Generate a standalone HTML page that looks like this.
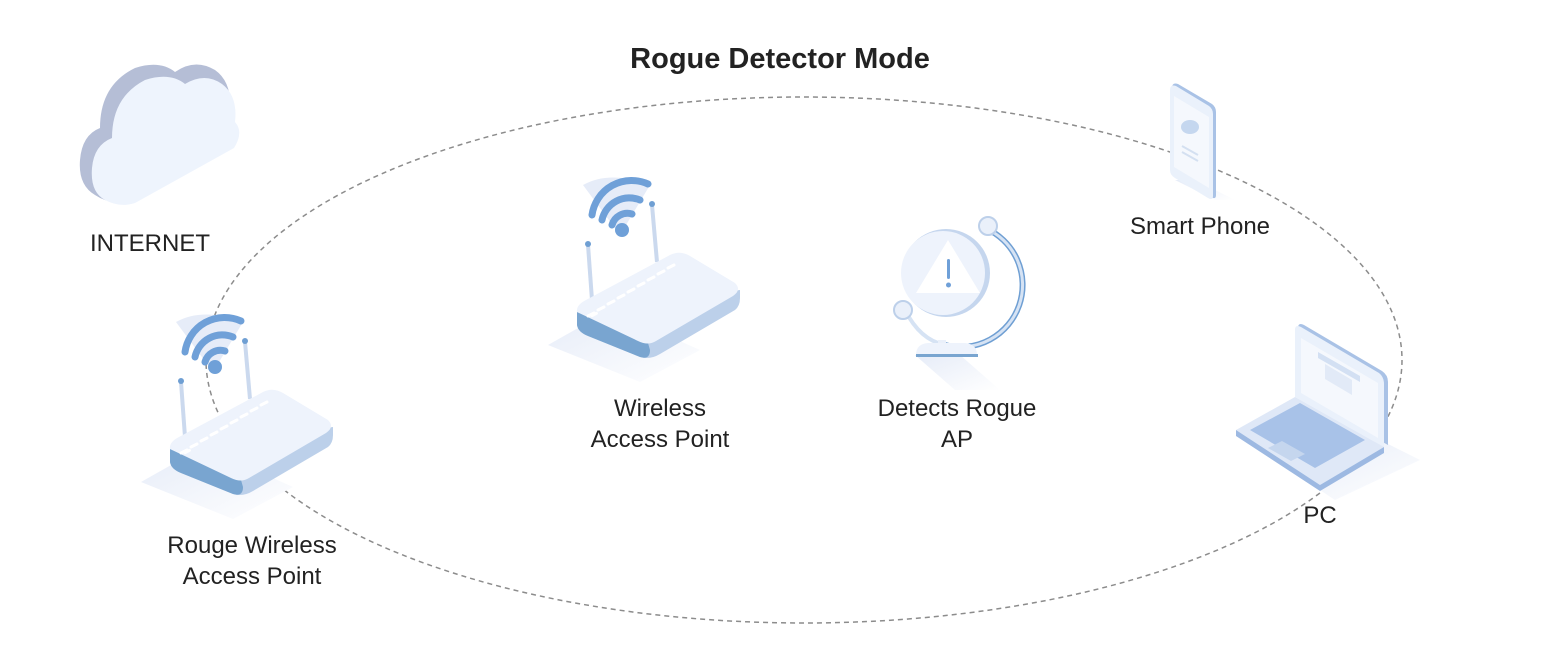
<!DOCTYPE html>
<html><head><meta charset="utf-8"><style>
body{margin:0;background:#fff;}
svg{display:block;font-family:"Liberation Sans",sans-serif;}
</style></head><body>
<svg width="1560" height="665" viewBox="0 0 1560 665" xmlns="http://www.w3.org/2000/svg">
<defs>
<linearGradient id="sh" x1="0" y1="0" x2="1" y2="1"><stop offset="0" stop-color="#e6ecf8"/><stop offset="1" stop-color="#fff"/></linearGradient>
<linearGradient id="wf" x1="0" y1="1" x2="1" y2="0"><stop offset="0" stop-color="#eef2fb"/><stop offset="1" stop-color="#6fa0d8"/></linearGradient>
<g id="router">
<polygon points="548,345 640,382 700,350 610,310" fill="url(#sh)"/>
<line x1="588" y1="245" x2="592" y2="300" stroke="#cbd9ee" stroke-width="4"/>
<circle cx="588" cy="244" r="3" fill="#6f9fd3"/>
<line x1="652" y1="205" x2="657" y2="262" stroke="#cbd9ee" stroke-width="4"/>
<circle cx="652" cy="204" r="3" fill="#6f9fd3"/>
<path d="M583,185 Q610,170 650,185 L620,235 Z" fill="#e6ecf8"/>
<path d="M592,215 A40,40 0 0 1 648,184" fill="none" stroke="#6fa0d8" stroke-width="7" stroke-linecap="round"/>
<path d="M602,220 A28,28 0 0 1 640,200" fill="none" stroke="#6fa0d8" stroke-width="7" stroke-linecap="round"/>
<path d="M612,225 A16,16 0 0 1 632,214" fill="none" stroke="#6fa0d8" stroke-width="7" stroke-linecap="round"/>
<circle cx="622" cy="230" r="7" fill="#6fa0d8"/>
<path d="M577,312 L577,325 Q578,332 588,336 L640,357 Q650,360 660,354 L735,310 Q740,306 740,298 L740,290 Z" fill="#bcd0ea"/>
<path d="M577,312 L577,325 Q578,332 588,336 L640,357 Q650,360 650,350 L648,343 Z" fill="#79a5d0"/>
<path d="M577,312 Q576,305 586,300 L670,255 Q680,250 690,256 L735,283 Q742,290 733,296 L656,341 Q648,346 638,341 Z" fill="#eef3fc"/>
<g fill="#fff"><rect x="590" y="313" width="8" height="3" rx="1.5" transform="rotate(-28 594 314)"/></g>
<g stroke="#fff" stroke-width="3" stroke-linecap="round">
<line x1="588" y1="316" x2="594" y2="313"/><line x1="598" y1="310" x2="604" y2="307"/><line x1="608" y1="304" x2="614" y2="301"/><line x1="618" y1="298" x2="624" y2="295"/><line x1="628" y1="292" x2="634" y2="289"/><line x1="638" y1="286" x2="644" y2="283"/><line x1="648" y1="280" x2="654" y2="277"/><line x1="658" y1="274" x2="664" y2="271"/><line x1="668" y1="268" x2="674" y2="265"/></g>
</g>
</defs>
<ellipse cx="804" cy="360" rx="598" ry="263" fill="none" stroke="#8c8c8c" stroke-width="1.5" stroke-dasharray="5,4"/>
<text x="780" y="68" text-anchor="middle" font-size="29" font-weight="bold" fill="#222">Rogue Detector Mode</text>
<!-- cloud -->
<path d="M95,195 Q78,185 80,160 Q82,135 100,128 Q100,85 135,68 Q160,60 175,72 Q195,58 215,70 Q232,82 230,110 Q240,120 230,140 L125,200 Q110,205 95,195 Z" fill="#b5bed6"/>
<path d="M105,200 Q90,192 92,168 Q94,145 112,138 Q112,97 145,80 Q170,72 185,84 Q205,72 222,84 Q238,96 235,122 Q244,132 234,148 L135,203 Q120,208 105,200 Z" fill="#eef4fd"/>
<text x="150" y="251" text-anchor="middle" font-size="24" fill="#222">INTERNET</text>
<!-- routers -->
<use href="#router"/>
<use href="#router" transform="translate(-407,137)"/>
<text x="660" y="416" text-anchor="middle" font-size="24" fill="#222">Wireless</text>
<text x="660" y="447" text-anchor="middle" font-size="24" fill="#222">Access Point</text>
<text x="252" y="553" text-anchor="middle" font-size="24" fill="#222">Rouge Wireless</text>
<text x="252" y="584" text-anchor="middle" font-size="24" fill="#222">Access Point</text>
<!-- detector -->
<polygon points="915,355 955,390 1000,390 960,355" fill="url(#sh)"/>
<path d="M985,228 A62,62 0 0 1 945,345" fill="none" stroke="#6f9fd3" stroke-width="6"/>
<path d="M985,228 A62,62 0 0 1 945,345" fill="none" stroke="#d6e3f4" stroke-width="3"/>
<path d="M905,310 Q920,340 945,345" fill="none" stroke="#d6e3f4" stroke-width="4"/>
<circle cx="988" cy="226" r="9" fill="#eaf0fa" stroke="#bdd0ea" stroke-width="2"/>
<circle cx="903" cy="310" r="9" fill="#eaf0fa" stroke="#bdd0ea" stroke-width="2"/>
<circle cx="946" cy="273" r="44" fill="#c5d6ee"/>
<circle cx="943" cy="273" r="42" fill="#eef3fc"/>
<polygon points="948,240 980,293 916,293" fill="#fff"/>
<rect x="947" y="259" width="3" height="20" rx="1.5" fill="#6fa0d8"/>
<circle cx="948.5" cy="285" r="2.5" fill="#6fa0d8"/>
<rect x="938" y="340" width="8" height="12" fill="#eaf0fa"/>
<path d="M916,355 Q916,344 928,343 L965,343 Q977,344 977,355 Z" fill="#eef3fc"/>
<rect x="916" y="354" width="62" height="3" fill="#79a5d0"/>
<text x="957" y="416" text-anchor="middle" font-size="24" fill="#222">Detects Rogue</text>
<text x="957" y="447" text-anchor="middle" font-size="24" fill="#222">AP</text>
<!-- phone -->
<polygon points="1175,180 1215,200 1235,200 1195,180" fill="url(#sh)"/>
<path d="M1172,88 Q1172,82 1178,84 L1212,104 Q1216,107 1216,112 L1216,195 Q1216,200 1211,197 L1177,177 Q1172,174 1172,169 Z" fill="#a9c2e6"/>
<path d="M1170,90 Q1170,84 1176,86 L1209,106 Q1213,109 1213,114 L1213,196 Q1213,201 1208,198 L1175,178 Q1170,175 1170,170 Z" fill="#eaf1fb"/>
<path d="M1174,96 L1209,117 L1209,188 L1174,167 Z" fill="#f5f8fd"/>
<ellipse cx="1190" cy="127" rx="9" ry="7" fill="#c5d7ef"/>
<line x1="1182" y1="146" x2="1198" y2="155" stroke="#d4e0f1" stroke-width="2"/>
<line x1="1182" y1="152" x2="1198" y2="161" stroke="#d4e0f1" stroke-width="2"/>
<text x="1200" y="234" text-anchor="middle" font-size="24" fill="#222">Smart Phone</text>
<!-- laptop -->
<polygon points="1290,470 1335,500 1420,460 1380,440" fill="url(#sh)"/>
<path d="M1298,328 Q1298,322 1304,325 L1382,371 Q1388,375 1388,382 L1388,445 L1298,395 Z" fill="#a9c2e6"/>
<path d="M1295,330 Q1295,324 1301,327 L1379,373 Q1384,377 1384,384 L1384,447 L1295,397 Z" fill="#eaf1fb"/>
<path d="M1301,338 L1378,383 L1378,438 L1301,393 Z" fill="#f5f8fd"/>
<path d="M1318,352 L1360,376 L1360,382 L1318,358 Z" fill="#d3e0f3"/>
<path d="M1325,364 L1352,380 L1352,395 L1325,379 Z" fill="#e2eaf7"/>
<path d="M1236,430 L1295,397 L1384,447 L1320,485 Z" fill="#dfe8f7"/>
<path d="M1236,430 L1236,436 L1320,491 L1384,453 L1384,447 L1320,485 Z" fill="#9db9e2"/>
<path d="M1250,430 L1300,403 L1365,440 L1315,468 Z" fill="#a8c2e8"/>
<path d="M1268,448 L1282,441 L1305,454 L1291,461 Z" fill="#c5d6ee"/>
<text x="1320" y="523" text-anchor="middle" font-size="24" fill="#222">PC</text>
</svg>
</body></html>
